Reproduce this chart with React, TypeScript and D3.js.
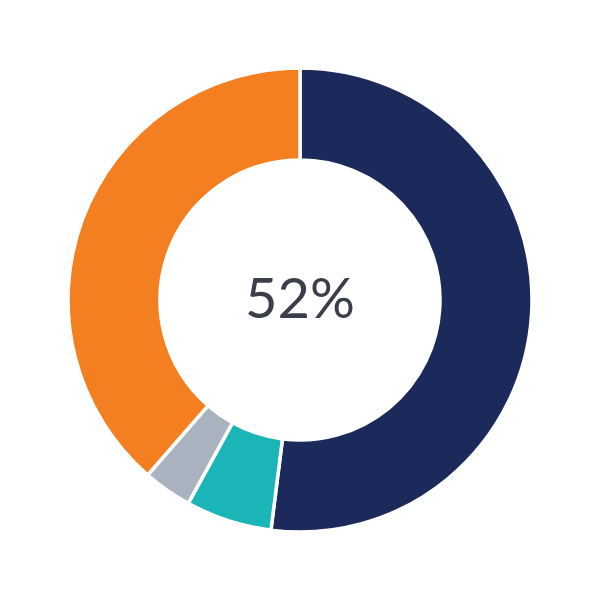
import * as d3 from 'd3';

const labels = ['Navy', 'Teal', 'Gray', 'Orange'];
const values = [52, 6, 3.4, 38.6];
const colors = ['#1b2a5b', '#1bb4b7', '#a9b3bf', '#f47f20'];
const centerLabel = '52%';

export default function App() {
  const width = 600;
  const height = 600;
  const outer = 232;
  const inner = 140;

  const pie = d3.pie<number>().sort(null).value(d => d);
  const arc = d3.arc<d3.PieArcDatum<number>>()
    .innerRadius(inner)
    .outerRadius(outer);

  const arcs = pie(values);

  return (
    <svg
      width={width}
      height={height}
      style={{ position: 'absolute', left: 0, top: 0, background: '#fff' }}
    >
      <g transform={`translate(${width / 2},${height / 2})`}>
        {arcs.map((a, i) => (
          <path
            key={labels[i]}
            d={arc(a) || ''}
            fill={colors[i]}
            stroke="#fff"
            strokeWidth={3.5}
          />
        ))}
        <text
          x={0}
          y={18}
          textAnchor="middle"
          fontFamily="Lato, 'Open Sans', sans-serif"
          fontSize={56}
          fill="#3a3f4a"
        >
          {centerLabel}
        </text>
      </g>
    </svg>
  );
}
